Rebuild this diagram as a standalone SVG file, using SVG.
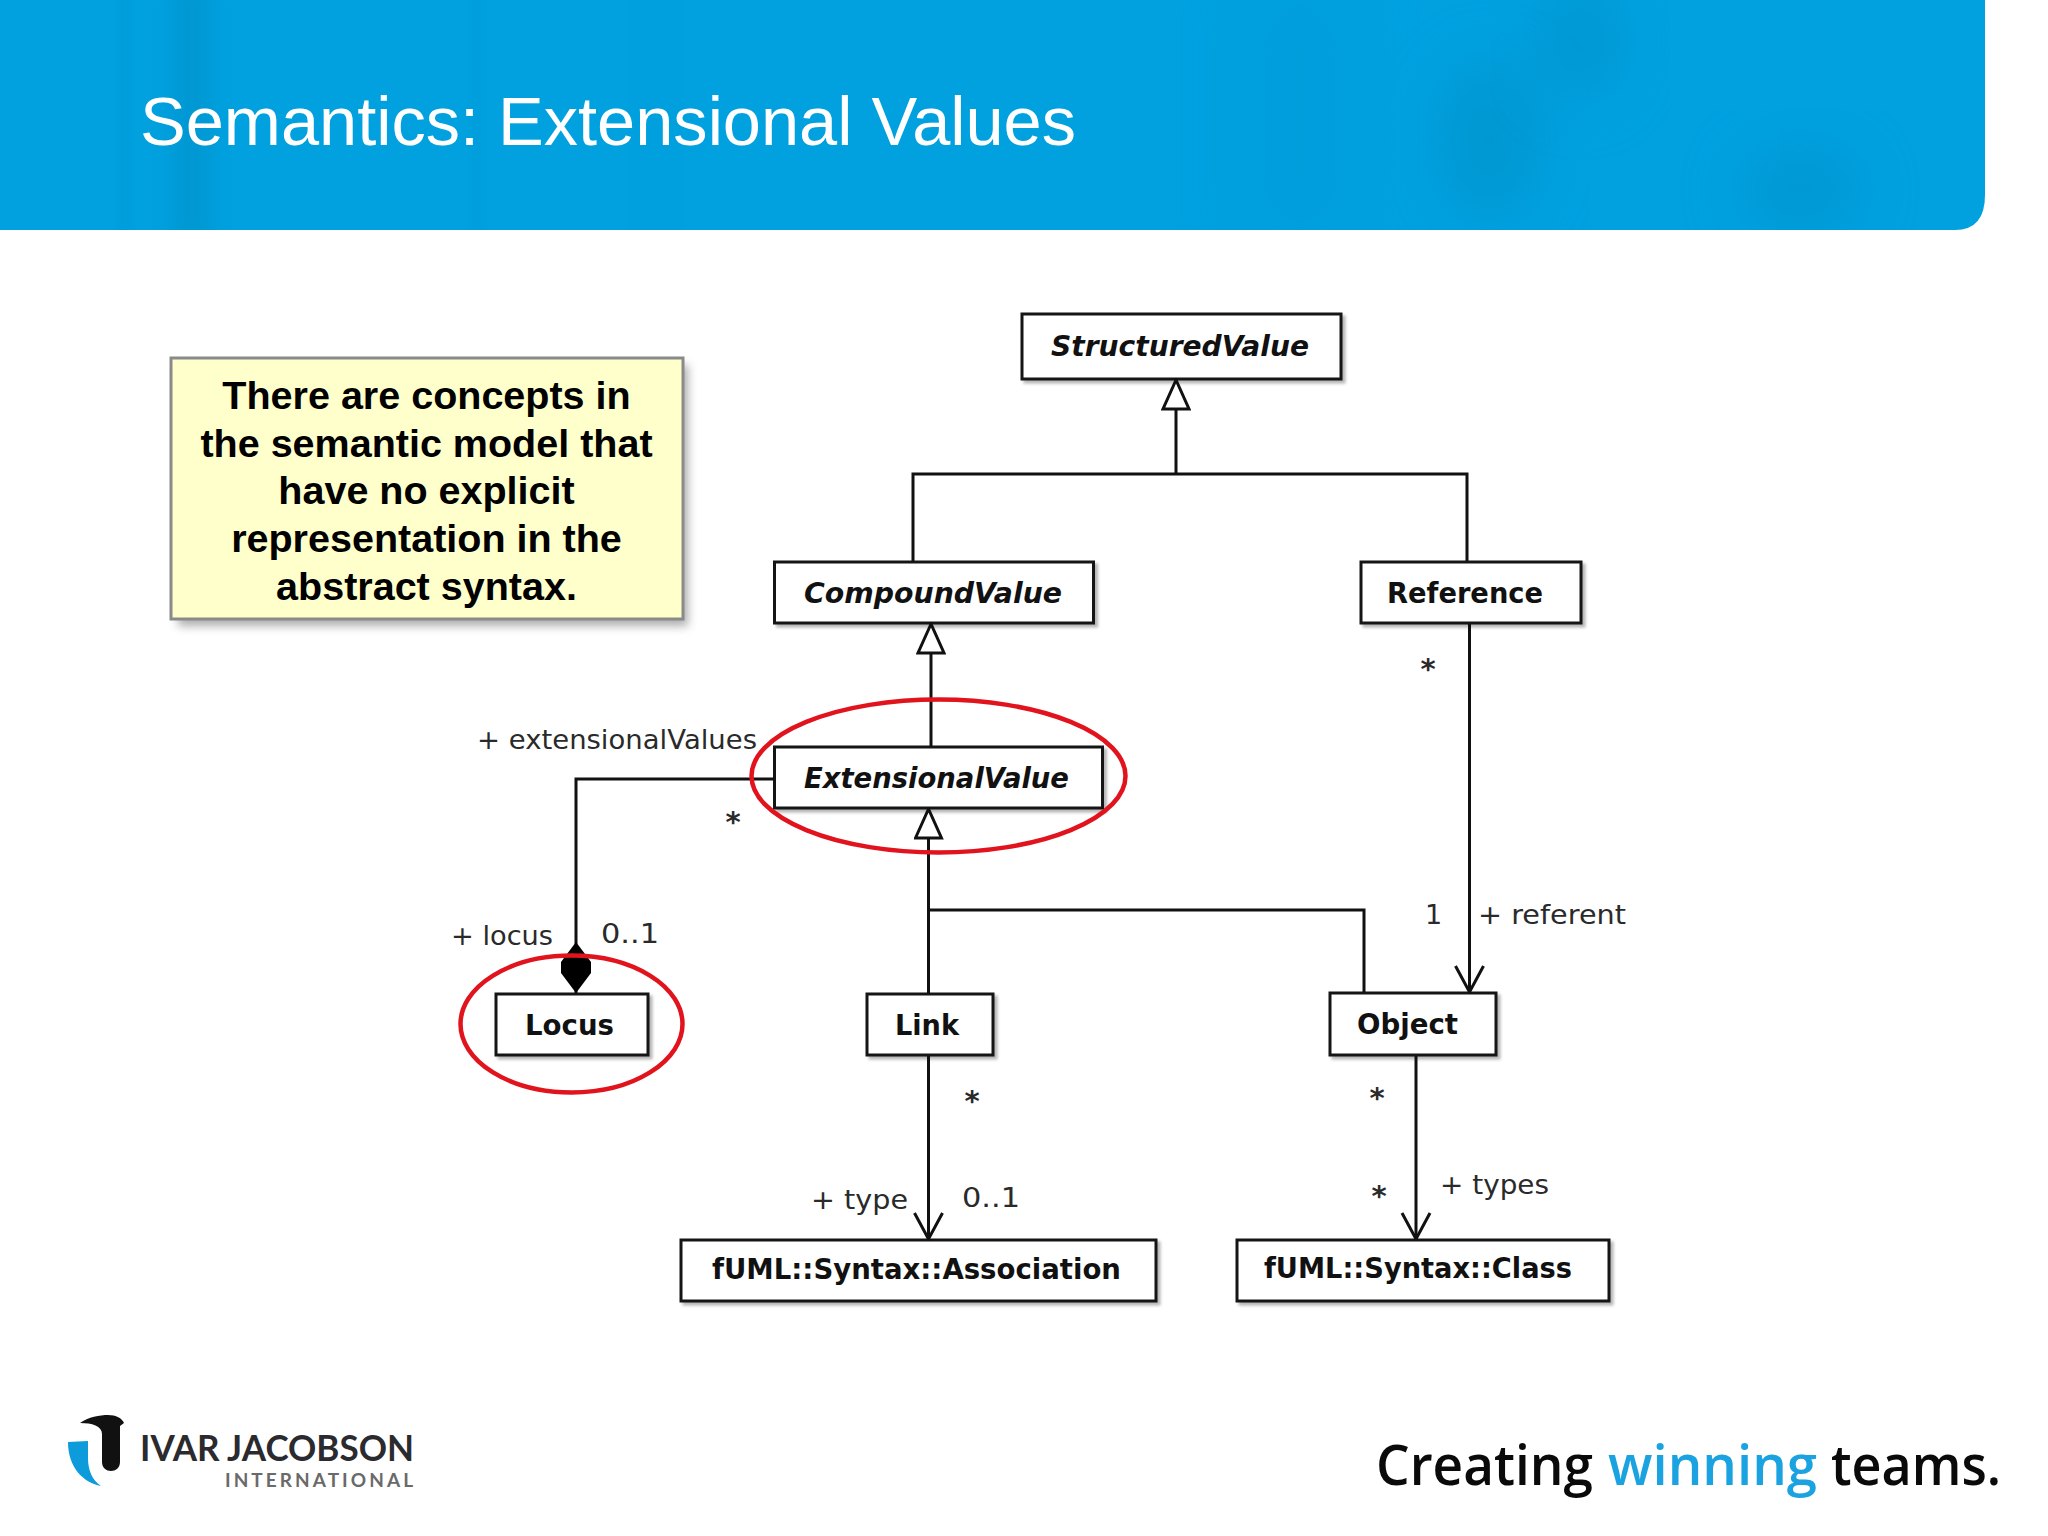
<svg xmlns="http://www.w3.org/2000/svg" width="2048" height="1536" viewBox="0 0 2048 1536">
<style>
.box{fill:#fff;stroke:#151515;stroke-width:3;filter:drop-shadow(3px 3px 1.5px #b5b5b5)}
.nl{font-family:"DejaVu Sans",sans-serif;font-weight:700;font-size:29px;fill:#111}
.it{font-style:italic}
.lb{font-family:"DejaVu Sans",sans-serif;font-size:27px;fill:#2a2a2a}
.st{font-family:"DejaVu Sans",sans-serif;font-size:29px;font-weight:700;fill:#2a2a2a;text-anchor:middle}
.cn{fill:none;stroke:#111;stroke-width:3}
.gen{marker-end:url(#tri)}
.nav{marker-end:url(#open)}
.cmp{marker-end:url(#dia)}
.ring{fill:none;stroke:#e1141e;stroke-width:4.500}
.note{font-family:"Liberation Sans",Arial,sans-serif;font-weight:700;font-size:39.500px;fill:#000;text-anchor:middle}
</style>
<defs>
<clipPath id="hc"><path d="M0 0H1985V195Q1985 230 1955 230H0Z"/></clipPath>
<filter id="b12" x="-50%" y="-50%" width="200%" height="200%"><feGaussianBlur stdDeviation="12"/></filter>
<filter id="b30" x="-50%" y="-50%" width="200%" height="200%"><feGaussianBlur stdDeviation="30"/></filter>
<filter id="b5" x="-20%" y="-20%" width="140%" height="140%"><feGaussianBlur stdDeviation="5"/></filter>
<marker id="tri" markerUnits="userSpaceOnUse" viewBox="-31 -15 33 30" refX="0" refY="0" markerWidth="33" markerHeight="30" orient="auto"><path d="M0 0L-29 -13V13Z" fill="#fff" stroke="#111" stroke-width="3"/></marker>
<marker id="open" markerUnits="userSpaceOnUse" viewBox="-28 -16 30 32" refX="0" refY="0" markerWidth="30" markerHeight="32" orient="auto"><path d="M-26 -14L0 0L-26 14" fill="none" stroke="#111" stroke-width="3"/></marker>
<marker id="dia" markerUnits="userSpaceOnUse" viewBox="-52 -17 54 34" refX="0" refY="0" markerWidth="54" markerHeight="34" orient="auto"><path d="M0 0L-20 -15L-31 -15L-51 0L-31 15L-20 15Z" fill="#000"/></marker>
</defs>
<rect width="2048" height="1536" fill="#fff"/>
<g id="header">
<g clip-path="url(#hc)">
<rect width="2048" height="230" fill="#01a1e0"/>
<rect x="172" y="-20" width="40" height="270" fill="#0091c8" opacity=".55" filter="url(#b12)"/>
<rect x="118" y="-20" width="14" height="270" fill="#0091c8" opacity=".25" filter="url(#b5)"/>
<rect x="470" y="-20" width="14" height="270" fill="#0091c8" opacity=".2" filter="url(#b5)"/>
<rect x="640" y="-20" width="30" height="270" fill="#0091c8" opacity=".12" filter="url(#b12)"/>
<ellipse cx="1490" cy="140" rx="50" ry="80" fill="#0090c6" opacity=".55" filter="url(#b30)"/>
<ellipse cx="1580" cy="40" rx="45" ry="60" fill="#0090c6" opacity=".5" filter="url(#b30)"/>
<ellipse cx="1800" cy="190" rx="60" ry="40" fill="#0090c6" opacity=".55" filter="url(#b30)"/>
<rect x="1240" y="-20" width="120" height="270" fill="#0096cf" opacity=".25" filter="url(#b30)"/>
</g>
<text x="140" y="145" font-family="Liberation Sans,Arial,sans-serif" font-size="68" fill="#fff" textLength="936" lengthAdjust="spacingAndGlyphs">Semantics: Extensional Values</text>
</g>
<g id="note">
<rect x="178" y="365" width="510" height="261" fill="#777" opacity=".6" filter="url(#b5)"/>
<rect x="171" y="358" width="512" height="261" fill="#ffffcc" stroke="#8a8a8a" stroke-width="3"/>
<text class="note" x="426.500" y="409">There are concepts in</text>
<text class="note" x="426.500" y="457">the semantic model that</text>
<text class="note" x="426.500" y="504">have no explicit</text>
<text class="note" x="426.500" y="552">representation in the</text>
<text class="note" x="426.500" y="600">abstract syntax.</text>
</g>
<g id="StructuredValue"><rect class="box" x="1022" y="314" width="319" height="65"/><text class="nl it" x="1051" y="356" textLength="258" lengthAdjust="spacingAndGlyphs">StructuredValue</text></g>
<g id="CompoundValue"><rect class="box" x="774.500" y="562" width="319" height="61"/><text class="nl it" x="804" y="603" textLength="258" lengthAdjust="spacingAndGlyphs">CompoundValue</text></g>
<g id="Reference"><rect class="box" x="1361" y="562" width="220" height="61"/><text class="nl" x="1387" y="603" textLength="156" lengthAdjust="spacingAndGlyphs">Reference</text></g>
<g id="ExtensionalValue"><rect class="box" x="774.500" y="747" width="328" height="61"/><text class="nl it" x="804" y="788" textLength="265" lengthAdjust="spacingAndGlyphs">ExtensionalValue</text></g>
<g id="Locus"><rect class="box" x="496" y="994" width="152" height="61"/><text class="nl" x="525" y="1035" textLength="89" lengthAdjust="spacingAndGlyphs">Locus</text></g>
<g id="Link"><rect class="box" x="867" y="994" width="126" height="61"/><text class="nl" x="895" y="1035" textLength="64" lengthAdjust="spacingAndGlyphs">Link</text></g>
<g id="Object"><rect class="box" x="1330" y="993" width="166" height="62"/><text class="nl" x="1357" y="1034" textLength="101" lengthAdjust="spacingAndGlyphs">Object</text></g>
<g id="Association"><rect class="box" x="681" y="1240" width="475" height="61"/><text class="nl" x="712" y="1279" textLength="409" lengthAdjust="spacingAndGlyphs">fUML::Syntax::Association</text></g>
<g id="Class"><rect class="box" x="1237" y="1240" width="372" height="61"/><text class="nl" x="1264" y="1278" textLength="308" lengthAdjust="spacingAndGlyphs">fUML::Syntax::Class</text></g>
<g id="connectors">
<path class="cn gen" d="M1176 473V380"/>
<path class="cn" d="M913 561V474H1467V561"/>
<path class="cn gen" d="M931 746V624"/>
<path class="cn gen" d="M928.500 993V809"/>
<path class="cn" d="M928.500 910H1364V992"/>
<path class="cn cmp" d="M774 779H576V993"/>
<path class="cn nav" d="M1469.500 624V992"/>
<path class="cn nav" d="M928.500 1056V1239"/>
<path class="cn nav" d="M1416 1056V1239"/>
</g>
<g id="labels">
<text class="lb" x="477" y="749" textLength="280" lengthAdjust="spacingAndGlyphs">+ extensionalValues</text>
<text class="st" x="733" y="832">*</text>
<text class="lb" x="451" y="945" textLength="102" lengthAdjust="spacingAndGlyphs">+ locus</text>
<text class="lb" x="601" y="943" textLength="58" lengthAdjust="spacingAndGlyphs">0..1</text>
<text class="st" x="1428" y="679">*</text>
<text class="lb" x="1425" y="924">1</text>
<text class="lb" x="1478" y="924" textLength="148" lengthAdjust="spacingAndGlyphs">+ referent</text>
<text class="st" x="972" y="1111">*</text>
<text class="lb" x="811" y="1209" textLength="97" lengthAdjust="spacingAndGlyphs">+ type</text>
<text class="lb" x="962" y="1207" textLength="58" lengthAdjust="spacingAndGlyphs">0..1</text>
<text class="st" x="1377" y="1108">*</text>
<text class="st" x="1379" y="1206">*</text>
<text class="lb" x="1440" y="1194" textLength="109" lengthAdjust="spacingAndGlyphs">+ types</text>
</g>
<g id="highlights">
<ellipse class="ring" cx="938.500" cy="776" rx="187" ry="76.500"/>
<ellipse class="ring" cx="571.500" cy="1024" rx="111" ry="68.500"/>
</g>
<g id="logo">
<path d="M80 1423C88 1417 100 1415 108 1415C116 1415 122 1418 124 1423L120 1426V1462C120 1474 102 1474 102 1462V1434C102 1426 92 1423 80 1423Z" fill="#111"/>
<path d="M68 1442L88 1441L88 1458C88 1470 92 1480 101 1486C84 1483 68 1468 68 1442Z" fill="#0e9bdc"/>
<text x="140" y="1461" font-family="Lato,sans-serif" font-weight="700" font-size="37" fill="#2b2b2f" textLength="274" lengthAdjust="spacingAndGlyphs">IVAR JACOBSON</text>
<text x="225" y="1487" font-family="Lato,sans-serif" font-weight="700" font-size="19" fill="#6a6a6a" textLength="188" lengthAdjust="spacing">INTERNATIONAL</text>
</g>
<g id="tagline">
<text y="1485" font-family="Open Sans,sans-serif" font-weight="600" font-size="56" fill="#0a0a0a"><tspan x="1376" textLength="217" lengthAdjust="spacingAndGlyphs">Creating</tspan> <tspan x="1608" textLength="209" lengthAdjust="spacingAndGlyphs" fill="#1aa3e0">winning</tspan> <tspan x="1831" textLength="170" lengthAdjust="spacingAndGlyphs">teams.</tspan></text>
</g>
</svg>
